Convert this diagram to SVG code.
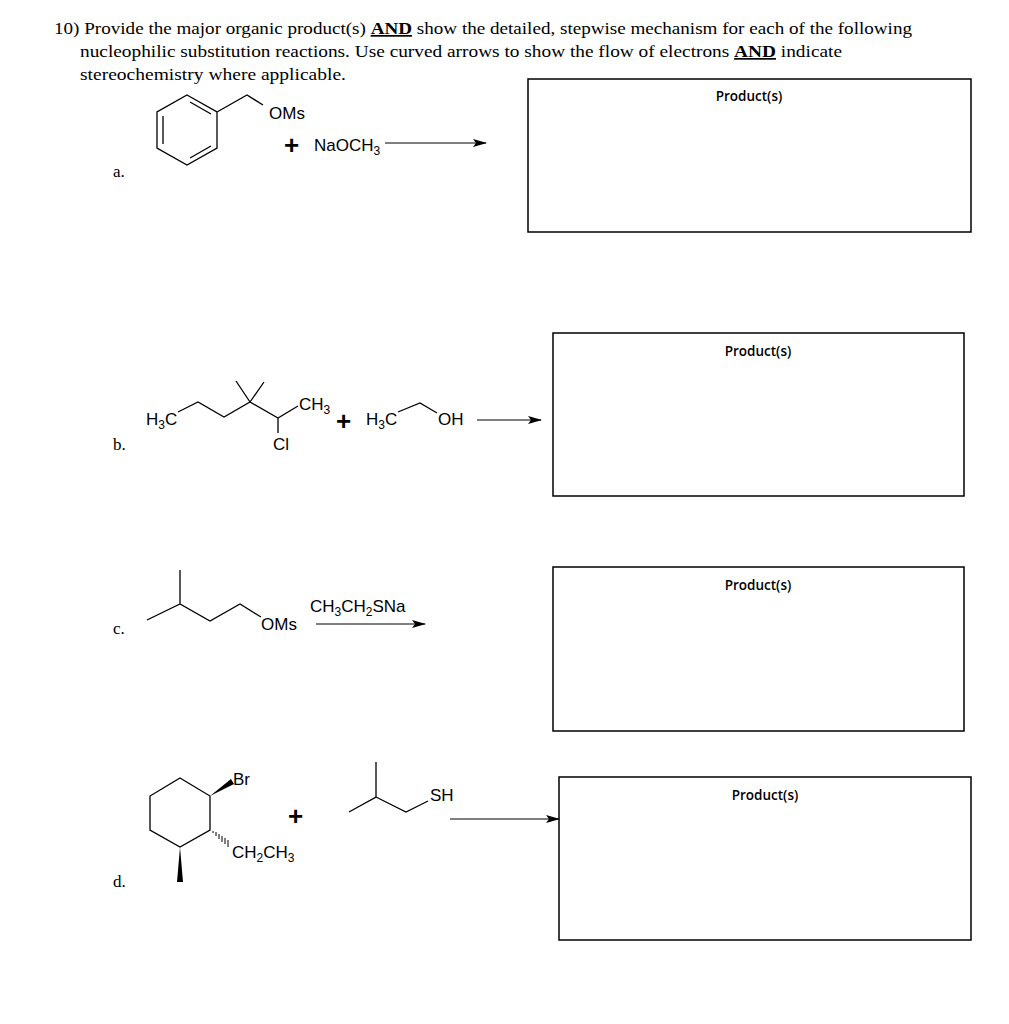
<svg xmlns="http://www.w3.org/2000/svg" width="1009" height="1024" viewBox="0 0 1009 1024">
<style>
.t{font-family:"Liberation Serif","Times New Roman","DejaVu Serif",serif;font-size:17px;fill:#000}
.s{font-family:"Liberation Sans",Arial,sans-serif;font-size:17px;fill:#000}
.sub{font-size:12px}
.p{font-family:"Open Sans","Liberation Sans",sans-serif;font-size:13.5px;font-weight:600;fill:#000;text-anchor:middle}
.b{fill:none;stroke:#000;stroke-width:1.3}
.box{fill:#fff;stroke:#000;stroke-width:1.5}
.ar{stroke:#000;stroke-width:1.2;marker-end:url(#ah)}
.plus{font-family:"Liberation Sans",sans-serif;font-size:26px;font-weight:bold}
</style>
<defs><marker id="ah" markerWidth="14" markerHeight="8" refX="13" refY="4" orient="auto" markerUnits="userSpaceOnUse"><path d="M0,0L14,4L0,8L3,4z" fill="#000"/></marker></defs>
<rect width="1009" height="1024" fill="#fff"/>
<g id="header">
<text class="t" font-family="Liberation Serif, serif" x="54" y="34" textLength="858" lengthAdjust="spacingAndGlyphs">10) Provide the major organic product(s) <tspan font-weight="bold" text-decoration="underline">AND</tspan> show the detailed, stepwise mechanism for each of the following</text>
<text class="t" font-family="Liberation Serif, serif" x="80" y="57" textLength="762" lengthAdjust="spacingAndGlyphs">nucleophilic substitution reactions.  Use curved arrows to show the flow of electrons <tspan font-weight="bold" text-decoration="underline">AND</tspan> indicate</text>
<text class="t" font-family="Liberation Serif, serif" x="80" y="80" textLength="266" lengthAdjust="spacingAndGlyphs">stereochemistry where applicable.</text>
</g>
<g id="labels">
<text class="t" x="113" y="177">a.</text>
<text class="t" x="113" y="450">b.</text>
<text class="t" x="113" y="634">c.</text>
<text class="t" x="113" y="887">d.</text>
</g>
<g id="boxes">
<rect class="box" x="528" y="79" width="443" height="153"/><text class="p" x="749" y="101">Product(s)</text>
<rect class="box" x="553" y="333" width="411" height="163"/><text class="p" x="758" y="356">Product(s)</text>
<rect class="box" x="553" y="567" width="411" height="164"/><text class="p" x="758" y="590">Product(s)</text>
<rect class="box" x="559" y="777" width="412" height="163"/><text class="p" x="765" y="800">Product(s)</text>
</g>
<g id="mol-a">
<path class="b" d="M187,95L217,112L217,148L187,165L157,148L157,112Z M163,116L163,144 M190,102L211,114 M190,158L211,146 M217,112L247,95L263,105"/>
<text class="s" x="269" y="119">OMs</text>
<text class="plus" x="284" y="154">+</text>
<text class="s" x="314" y="151">NaOCH<tspan class="sub" dy="4">3</tspan></text>
</g>
<g id="mol-b">
<text class="s" x="146" y="425">H<tspan class="sub" dy="4">3</tspan><tspan dy="-4">C</tspan></text>
<path class="b" d="M178,412L198,402L224,417L250,402L278,418L298,406 M250,402L236,381 M250,402L264,382 M278,418L278,433"/>
<text class="s" x="299" y="410">CH<tspan class="sub" dy="4">3</tspan></text>
<text class="s" x="273" y="450" font-size="14">Cl</text>
<text class="plus" x="336" y="430">+</text>
<text class="s" x="366" y="425">H<tspan class="sub" dy="4">3</tspan><tspan dy="-4">C</tspan></text>
<path class="b" d="M398,412L420,403L437,413"/>
<text class="s" x="438" y="425">OH</text>
</g>
<g id="mol-c">
<path class="b" d="M147,620L180,604L210,621L240,604L261,617 M180,604L180,570"/>
<text class="s" x="261" y="630">OMs</text>
<text class="s" x="310" y="612">CH<tspan class="sub" dy="4">3</tspan><tspan dy="-4">CH</tspan><tspan class="sub" dy="4">2</tspan><tspan dy="-4">SNa</tspan></text>
</g>
<g id="mol-d">
<path class="b" d="M180,778L210,796L210,830L180,847L150,830L150,796Z"/>
<path d="M210,796L231,779L234,784Z" fill="#000"/>
<path d="M180,847L177,882L183,882Z" fill="#000"/>
<path stroke="#000" stroke-width="1" d="M213,831L213,833 M216,832L216,836 M219,834L219,839 M222,836L222,842 M225,838L225,844 M228,840L228,847"/>
<text class="s" x="233" y="785">Br</text>
<text class="s" x="232" y="858">CH<tspan class="sub" dy="4">2</tspan><tspan dy="-4">CH</tspan><tspan class="sub" dy="4">3</tspan></text>
<text class="plus" x="288" y="825">+</text>
<path class="b" d="M376,762L376,797L349,812 M376,797L406,812L428,801"/>
<text class="s" x="430" y="801">SH</text>
</g>
<g id="connectors">
<line class="ar" x1="385" y1="143" x2="486" y2="143"/>
<line class="ar" x1="477" y1="420" x2="541" y2="420"/>
<line class="ar" x1="316" y1="624" x2="425" y2="624"/>
<line class="ar" x1="450" y1="819" x2="559" y2="819"/>
</g>
</svg>
